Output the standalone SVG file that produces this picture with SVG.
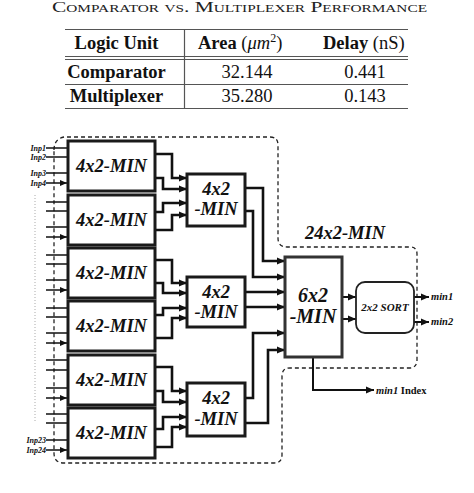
<svg xmlns="http://www.w3.org/2000/svg" width="474" height="493" viewBox="0 0 474 493">
<style>
.bg{fill:#fff}
.cap{font-family:"Liberation Serif",serif;font-size:14px;font-variant:small-caps;fill:#222}
.th{font-family:"Liberation Serif",serif;font-size:18.5px;fill:#111}
.b{font-weight:bold}
.i{font-style:italic}
.rule{stroke:#555;stroke-width:1.2;fill:none}
.blk{fill:#fff;stroke:#1a1a1a;stroke-width:3}
.blt{font-family:"Liberation Serif",serif;font-weight:bold;font-style:italic;font-size:18.5px;fill:#111;text-anchor:middle}
.inl{font-family:"Liberation Serif",serif;font-weight:bold;font-style:italic;font-size:8px;fill:#111;text-anchor:end}
.in{stroke:#111;stroke-width:1.6;fill:none;marker-end:url(#as)}
.wire{stroke:#111;stroke-width:2.6;fill:none;marker-end:url(#ah)}
.wire2{stroke:#111;stroke-width:2;fill:none;marker-end:url(#ah)}
.dash{stroke:#222;stroke-width:1.3;fill:none;stroke-dasharray:4 3}
.dot{stroke:#aaa;stroke-width:1;fill:none;stroke-dasharray:1 2}
.lbl{font-family:"Liberation Serif",serif;font-weight:bold;font-style:italic;font-size:10.5px;fill:#111}
</style>
<defs>
<marker id="ah" markerUnits="userSpaceOnUse" markerWidth="9" markerHeight="8" refX="8" refY="4" orient="auto"><path d="M0,0.5 L8,4 L0,7.5 z" fill="#111"/></marker>
<marker id="as" markerUnits="userSpaceOnUse" markerWidth="8" markerHeight="7" refX="7" refY="3.5" orient="auto"><path d="M0,0.5 L7,3.5 L0,6.5 z" fill="#111"/></marker>
</defs>
<rect class="bg" x="0" y="0" width="474" height="493"/>

<!-- caption and table -->
<g id="table">
<text class="cap" x="52" y="12" textLength="375" lengthAdjust="spacingAndGlyphs">Comparator vs. Multiplexer Performance</text>
<line class="rule" x1="65" y1="29.5" x2="408" y2="29.5"/>
<line class="rule" x1="65" y1="56.5" x2="408" y2="56.5"/>
<line class="rule" x1="65" y1="59.5" x2="408" y2="59.5"/>
<line class="rule" x1="65" y1="84.5" x2="408" y2="84.5"/>
<line class="rule" x1="65" y1="108.5" x2="408" y2="108.5"/>
<line class="rule" x1="184.5" y1="29.5" x2="184.5" y2="108.5"/>
<text class="th b" x="116.5" y="49" text-anchor="middle">Logic Unit</text>
<text class="th" x="198" y="49"><tspan class="b">Area</tspan> (<tspan class="i">μm</tspan><tspan style="font-size:12px" dy="-7">2</tspan><tspan dy="7">)</tspan></text>
<text class="th" x="323" y="49"><tspan class="b">Delay</tspan> (nS)</text>
<text class="th b" x="116.5" y="78" text-anchor="middle">Comparator</text>
<text class="th" x="247" y="78" text-anchor="middle">32.144</text>
<text class="th" x="365" y="78" text-anchor="middle">0.441</text>
<text class="th b" x="116.5" y="101.5" text-anchor="middle">Multiplexer</text>
<text class="th" x="247" y="101.5" text-anchor="middle">35.280</text>
<text class="th" x="365" y="101.5" text-anchor="middle">0.143</text>
</g>

<!-- boundary -->
<g id="boundary">
<path class="dash" d="M54,150 Q54,139 64,137 L270,137 Q278,137 278,145 L278,238 Q278,247 287,247 L410,247 Q417,247 417,254 L417,360 Q417,368 409,368 L290,368 Q282,368 282,376 L282,455 Q282,463 274,463 L64,463 Q54,463 54,453 Z"/>
<line class="dot" x1="35" y1="195" x2="35" y2="423"/>
<text class="blt" x="345" y="239">24x2-MIN</text>
</g>

<!-- connectors -->
<g id="connectors">
<g id="inputs">
<path class="in" d="M46,148H67M46,157H67M46,173H67M46,183H67"/>
<path class="in" d="M46,202H67M46,211H67M46,227H67M46,237H67"/>
<path class="in" d="M46,255H67M46,264H67M46,280H67M46,290H67"/>
<path class="in" d="M46,308H67M46,317H67M46,333H67M46,343H67"/>
<path class="in" d="M46,360H67M46,370H67M46,388H67M46,398H67"/>
<path class="in" d="M46,414H67M46,423H67M46,440H67M46,450H67"/>
</g>
<path class="wire" d="M155,154H172V178H187"/>
<path class="wire" d="M155,178H163V189H187"/>
<path class="wire" d="M155,212H163V203H187"/>
<path class="wire" d="M155,230H172V215H187"/>
<path class="wire" d="M155,260H172V283H187"/>
<path class="wire" d="M155,283H163V293H187"/>
<path class="wire" d="M155,315H163V308H187"/>
<path class="wire" d="M155,338H172V318H187"/>
<path class="wire" d="M155,367H172V391H187"/>
<path class="wire" d="M155,391H163V402H187"/>
<path class="wire" d="M155,429H163V417H187"/>
<path class="wire" d="M155,447H172V427H187"/>
<path class="wire" d="M245,188H263V261H285"/>
<path class="wire" d="M245,211H253V277H285"/>
<path class="wire" d="M245,292H285"/>
<path class="wire" d="M245,307H285"/>
<path class="wire" d="M245,398H253V333H285"/>
<path class="wire" d="M245,423H268V350H285"/>
<path class="wire2" d="M342,297H356"/>
<path class="wire2" d="M342,319H356"/>
<path class="wire2" d="M414,297H429"/>
<path class="wire2" d="M414,322H429"/>
<path class="wire2" d="M313,357V390H374"/>
</g>

<!-- labels on inputs/outputs -->
<g id="io-labels">
<text class="inl" x="46" y="150.5">Inp1</text>
<text class="inl" x="46" y="159.5">Inp2</text>
<text class="inl" x="46" y="175.5">Inp3</text>
<text class="inl" x="46" y="185.5">Inp4</text>
<text class="inl" x="46" y="442.5">Inp23</text>
<text class="inl" x="46" y="452.5">Inp24</text>
<text class="lbl" x="431" y="300">min1</text>
<text class="lbl" x="431" y="325">min2</text>
<text class="lbl" x="376" y="393.5">min1<tspan style="font-style:normal"> Index</tspan></text>
</g>

<!-- first level -->
<g id="b1"><rect class="blk" x="68" y="141" width="87" height="50"/><text class="blt" x="111.5" y="172">4x2-MIN</text></g>
<g id="b2"><rect class="blk" x="68" y="195" width="87" height="50"/><text class="blt" x="111.5" y="226">4x2-MIN</text></g>
<g id="b3"><rect class="blk" x="68" y="248" width="87" height="50"/><text class="blt" x="111.5" y="279">4x2-MIN</text></g>
<g id="b4"><rect class="blk" x="68" y="301" width="87" height="50"/><text class="blt" x="111.5" y="332">4x2-MIN</text></g>
<g id="b5"><rect class="blk" x="68" y="355" width="87" height="50"/><text class="blt" x="111.5" y="386">4x2-MIN</text></g>
<g id="b6"><rect class="blk" x="68" y="408" width="87" height="50"/><text class="blt" x="111.5" y="439">4x2-MIN</text></g>

<!-- second level -->
<g id="m1"><rect class="blk" x="187" y="174" width="58" height="52"/><text class="blt" x="216" y="195">4x2</text><text class="blt" x="216" y="215">-MIN</text></g>
<g id="m2"><rect class="blk" x="187" y="277" width="58" height="50"/><text class="blt" x="216" y="298">4x2</text><text class="blt" x="216" y="318">-MIN</text></g>
<g id="m3"><rect class="blk" x="187" y="383" width="58" height="53"/><text class="blt" x="216" y="404">4x2</text><text class="blt" x="216" y="425">-MIN</text></g>

<!-- third level -->
<g id="m6"><rect class="blk" x="285" y="257" width="57" height="100" style="stroke:#333"/><text class="blt" x="313" y="302" style="font-size:20px">6x2</text><text class="blt" x="313" y="323" style="font-size:20px">-MIN</text></g>

<!-- sort -->
<g id="sort"><rect x="356" y="282" width="58" height="51" rx="9" fill="#fff" stroke="#222" stroke-width="1.8"/><text class="blt" x="385" y="311" style="font-size:11px">2x2 SORT</text></g>
</svg>
